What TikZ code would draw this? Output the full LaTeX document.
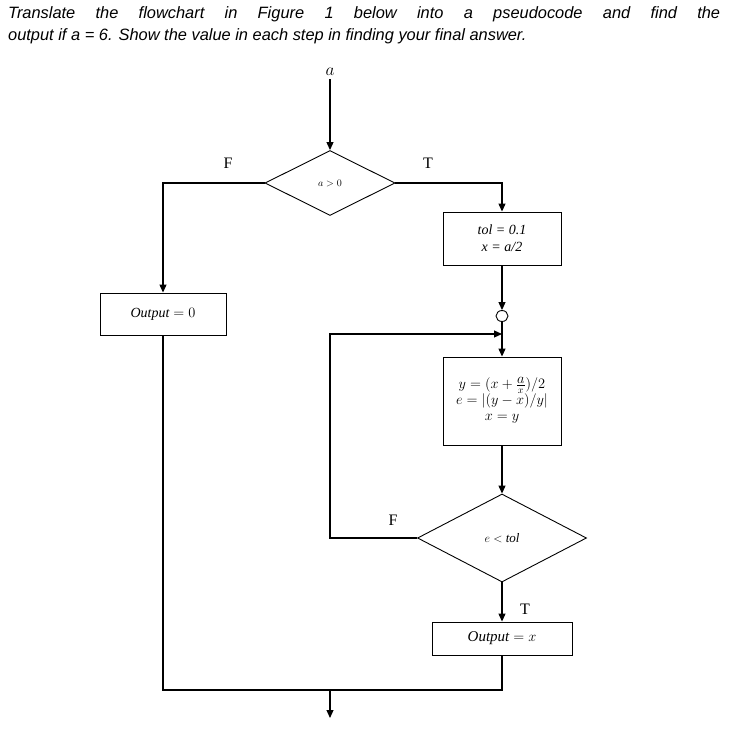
\documentclass[tikz,border=0pt]{standalone}
\usepackage{graphicx}
\usepackage{fontspec}
\setmainfont{Liberation Serif}
\newfontfamily\titlefont{Liberation Sans}
\usetikzlibrary{arrows.meta,shapes.geometric}
\begin{document}
\begin{tikzpicture}[x=1pt,y=-1pt,
  line/.style={draw, line width=1.1pt},
  arr/.style={line, -{Triangle[length=8pt,width=7pt]}},
  box/.style={draw, line width=0.9pt, inner sep=0pt, align=center, font=\fontsize{14}{17}\selectfont},
  dia/.style={draw, line width=0.9pt, diamond, inner sep=0pt},
  lbl/.style={font=\fontsize{16}{18}\selectfont}]
\useasboundingbox (0,0) rectangle (741,736);
\node[anchor=north west, text width=712pt, align=justify, inner sep=0pt,
  font=\titlefont\itshape\fontsize{16.4}{22}\selectfont] (title) at (8,6)
  {Translate the flowchart in Figure 1 below into a pseudocode and find the\linebreak output if a = 6. Show the value in each step in finding your final answer.};
\node[font=\fontsize{16}{18}\selectfont] (a) at (330,72) {$a$};
\node[dia, minimum width=130pt, minimum height=65pt, font=\fontsize{10}{12}\selectfont] (d1) at (330,183) {$a>0$};
\node[box, minimum width=126pt, minimum height=42pt, font=\fontsize{14}{16}\selectfont] (o0) at (163,314) {$\mathit{Output}=0$};
\node[box, minimum width=118pt, minimum height=53pt] (tol) at (502,238.5) {\itshape tol = 0.1\\ \itshape x = a/2};
\node[draw, line width=0.9pt, ellipse, minimum width=12pt, minimum height=11pt, inner sep=0pt] (c) at (502,316) {};
\coordinate (j) at (502,334);
\node[box, minimum width=118pt, minimum height=88pt, font=\fontsize{14}{16}\selectfont] (calc) at (502,401)
  {\begin{tabular}{c}$y=(x+{\displaystyle a\over x})/2$\\[-1pt] $e=|(y-x)/y|$\\ $x=y$\end{tabular}};
\node[dia, minimum width=169pt, minimum height=88pt, font=\fontsize{13}{15}\selectfont] (d2) at (502,538) {$e<\mathit{tol}$};
\node[box, minimum width=140pt, minimum height=33pt, font=\fontsize{15}{17}\selectfont] (ox) at (502,638.5) {$\mathit{Output}=x$};
\coordinate (m) at (330,690);
\coordinate (end) at (330,718);
\node[lbl] (F1) at (228,163) {F};
\node[lbl] (T1) at (428,163) {T};
\node[lbl] (F2) at (393,520) {F};
\node[lbl] (T2) at (525,609) {T};
\draw[arr] (a) -- (d1.north);
\draw[arr] (d1.west) -| (o0.north);
\draw[arr] (d1.east) -| (tol.north);
\draw[arr] (tol.south) -- (c.north);
\draw[arr] (c.south) -- (calc.north);
\draw[arr] (d2.west) -- (330,538) -- (330,334) -- (j);
\draw[arr] (calc.south) -- (d2.north);
\draw[arr] (d2.south) -- (ox.north);
\draw[line] (ox.south) |- (m);
\draw[line] (o0.south) |- (m);
\draw[arr] (m) -- (end);
\end{tikzpicture}
\end{document}
